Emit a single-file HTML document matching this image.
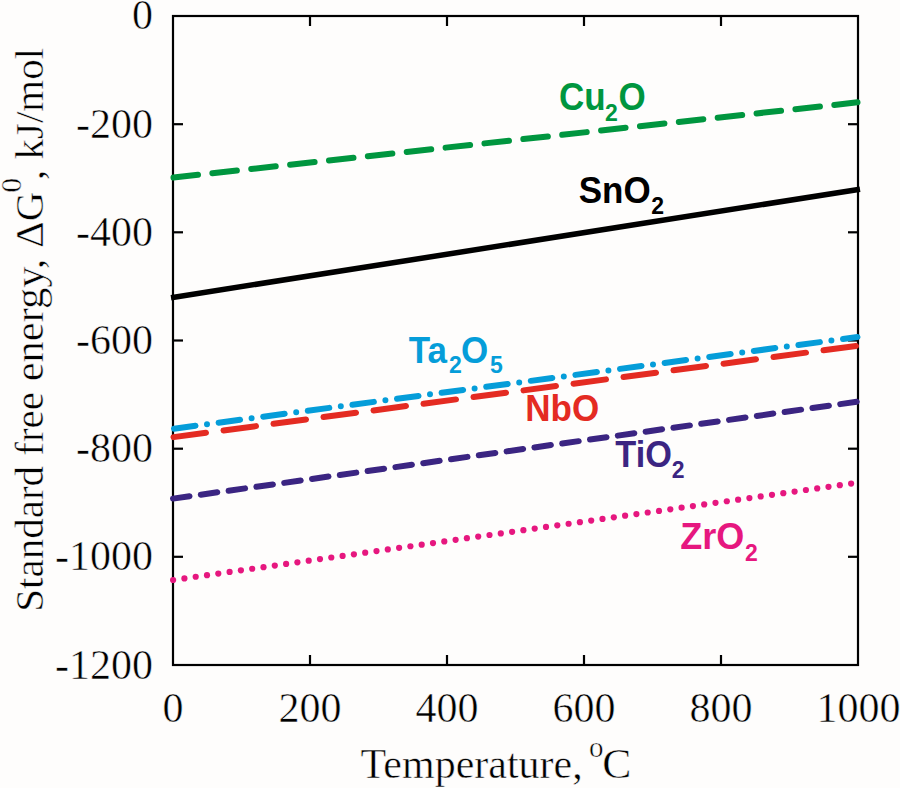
<!DOCTYPE html>
<html><head><meta charset="utf-8">
<style>
html,body{margin:0;padding:0;background:#fefdfc;}
body{width:900px;height:788px;overflow:hidden;}
svg{display:block;}
.ser{font-family:"Liberation Serif",serif;fill:#000;stroke:#fefdfc;stroke-width:0.5px;}
.san{font-family:"Liberation Sans",sans-serif;font-weight:bold;}
</style></head><body>
<svg width="900" height="788" viewBox="0 0 900 788">
<rect x="0" y="0" width="900" height="788" fill="#fefdfc"/>
<rect x="173" y="16" width="685" height="649" fill="none" stroke="#000" stroke-width="2.2"/>
<g stroke="#000" stroke-width="2.2">
<line x1="310.0" y1="665" x2="310.0" y2="655"/>
<line x1="310.0" y1="16" x2="310.0" y2="26"/>
<line x1="447.0" y1="665" x2="447.0" y2="655"/>
<line x1="447.0" y1="16" x2="447.0" y2="26"/>
<line x1="584.0" y1="665" x2="584.0" y2="655"/>
<line x1="584.0" y1="16" x2="584.0" y2="26"/>
<line x1="721.0" y1="665" x2="721.0" y2="655"/>
<line x1="721.0" y1="16" x2="721.0" y2="26"/>
<line x1="173" y1="124.2" x2="183" y2="124.2"/>
<line x1="858" y1="124.2" x2="848" y2="124.2"/>
<line x1="173" y1="232.3" x2="183" y2="232.3"/>
<line x1="858" y1="232.3" x2="848" y2="232.3"/>
<line x1="173" y1="340.5" x2="183" y2="340.5"/>
<line x1="858" y1="340.5" x2="848" y2="340.5"/>
<line x1="173" y1="448.7" x2="183" y2="448.7"/>
<line x1="858" y1="448.7" x2="848" y2="448.7"/>
<line x1="173" y1="556.8" x2="183" y2="556.8"/>
<line x1="858" y1="556.8" x2="848" y2="556.8"/>
</g>
<line x1="173.50" y1="177.55" x2="857.50" y2="102.35" stroke="#00963f" stroke-width="6.00" stroke-linecap="round" stroke-dasharray="24.648 14.457"/>
<line x1="171.00" y1="297.72" x2="860.00" y2="189.18" stroke="#000000" stroke-width="5.50" stroke-linecap="butt"/>
<line x1="174.00" y1="428.67" x2="857.50" y2="337.07" stroke="#059dd9" stroke-width="6.00" stroke-linecap="round" stroke-dasharray="21.692 11.603 0.000 11.704"/>
<line x1="173.50" y1="437.13" x2="857.50" y2="345.77" stroke="#e42b22" stroke-width="6.00" stroke-linecap="round" stroke-dasharray="32.789 17.655"/>
<line x1="173.00" y1="498.60" x2="857.50" y2="401.67" stroke="#3b2582" stroke-width="6.00" stroke-linecap="round" stroke-dasharray="16.665 11.413"/>
<g fill="#e6177f"><circle cx="173.10" cy="579.99" r="3.10"/><circle cx="184.40" cy="578.38" r="3.10"/><circle cx="195.70" cy="576.77" r="3.10"/><circle cx="207.00" cy="575.17" r="3.10"/><circle cx="218.30" cy="573.56" r="3.10"/><circle cx="229.60" cy="571.95" r="3.10"/><circle cx="240.90" cy="570.35" r="3.10"/><circle cx="252.20" cy="568.74" r="3.10"/><circle cx="263.50" cy="567.13" r="3.10"/><circle cx="274.80" cy="565.53" r="3.10"/><circle cx="286.10" cy="563.92" r="3.10"/><circle cx="297.40" cy="562.31" r="3.10"/><circle cx="308.70" cy="560.70" r="3.10"/><circle cx="320.00" cy="559.10" r="3.10"/><circle cx="331.30" cy="557.49" r="3.10"/><circle cx="342.60" cy="555.88" r="3.10"/><circle cx="353.90" cy="554.28" r="3.10"/><circle cx="365.20" cy="552.67" r="3.10"/><circle cx="376.50" cy="551.06" r="3.10"/><circle cx="387.80" cy="549.46" r="3.10"/><circle cx="399.10" cy="547.85" r="3.10"/><circle cx="410.40" cy="546.24" r="3.10"/><circle cx="421.70" cy="544.64" r="3.10"/><circle cx="433.00" cy="543.03" r="3.10"/><circle cx="444.30" cy="541.42" r="3.10"/><circle cx="455.60" cy="539.82" r="3.10"/><circle cx="466.90" cy="538.21" r="3.10"/><circle cx="478.20" cy="536.60" r="3.10"/><circle cx="489.50" cy="535.00" r="3.10"/><circle cx="500.80" cy="533.39" r="3.10"/><circle cx="512.10" cy="531.78" r="3.10"/><circle cx="523.40" cy="530.18" r="3.10"/><circle cx="534.70" cy="528.57" r="3.10"/><circle cx="546.00" cy="526.96" r="3.10"/><circle cx="557.30" cy="525.36" r="3.10"/><circle cx="568.60" cy="523.75" r="3.10"/><circle cx="579.90" cy="522.14" r="3.10"/><circle cx="591.20" cy="520.54" r="3.10"/><circle cx="602.50" cy="518.93" r="3.10"/><circle cx="613.80" cy="517.32" r="3.10"/><circle cx="625.10" cy="515.72" r="3.10"/><circle cx="636.40" cy="514.11" r="3.10"/><circle cx="647.70" cy="512.50" r="3.10"/><circle cx="659.00" cy="510.90" r="3.10"/><circle cx="670.30" cy="509.29" r="3.10"/><circle cx="681.60" cy="507.68" r="3.10"/><circle cx="692.90" cy="506.08" r="3.10"/><circle cx="704.20" cy="504.47" r="3.10"/><circle cx="715.50" cy="502.86" r="3.10"/><circle cx="726.80" cy="501.26" r="3.10"/><circle cx="738.10" cy="499.65" r="3.10"/><circle cx="749.40" cy="498.04" r="3.10"/><circle cx="760.70" cy="496.44" r="3.10"/><circle cx="772.00" cy="494.83" r="3.10"/><circle cx="783.30" cy="493.22" r="3.10"/><circle cx="794.60" cy="491.61" r="3.10"/><circle cx="805.90" cy="490.01" r="3.10"/><circle cx="817.20" cy="488.40" r="3.10"/><circle cx="828.50" cy="486.79" r="3.10"/><circle cx="839.80" cy="485.19" r="3.10"/><circle cx="851.10" cy="483.58" r="3.10"/></g>
<g class="ser" font-size="42" text-anchor="end">
<text x="153" y="29.4">0</text>
<text x="153" y="137.6">-200</text>
<text x="153" y="245.7">-400</text>
<text x="153" y="353.9">-600</text>
<text x="153" y="462.1">-800</text>
<text x="153" y="570.2">-1000</text>
<text x="153" y="678.6">-1200</text>
</g>
<g class="ser" font-size="42" text-anchor="middle">
<text x="173" y="722">0</text>
<text x="310" y="722">200</text>
<text x="447" y="722">400</text>
<text x="584" y="722">600</text>
<text x="721" y="722">800</text>
<text x="858.5" y="722">1000</text>
</g>
<g class="ser">
<text font-size="42" x="360.6" y="777.7">Temperature,</text>
<text font-size="29" x="589" y="756.7">o</text>
<text font-size="42" transform="translate(602.3,777.8) scale(1.04,1)">C</text>
</g>
<g class="ser" transform="translate(43,608.7) rotate(-90)">
<text font-size="41" x="-3" y="0">Standard free</text>
<text font-size="41" transform="translate(227.4,0) scale(1.037,1)">energy,</text>
<text font-size="41" x="361" y="0">ΔG</text>
<text font-size="29" x="416.2" y="-21.7">0</text>
<text font-size="41" x="428.7" y="0">, kJ/mol</text>
</g>
<g class="san" font-size="35">
<g fill="#00963f"><text transform="translate(559,110.2) scale(1,1.1)">Cu</text><text font-size="23" x="605.1" y="120.8">2</text><text transform="translate(618.6,110.2) scale(1,1.1)">O</text></g>
<g fill="#000"><text transform="translate(578.7,202.6) scale(1,1.07)">SnO</text><text font-size="23" x="651.3" y="213.7">2</text></g>
<g fill="#059dd9"><text transform="translate(408.7,362.9) scale(1,1.07)">Ta</text><text font-size="23" x="448.9" y="373.4">2</text><text transform="translate(461,362.9) scale(1,1.07)">O</text><text font-size="23" x="490" y="372.7">5</text></g>
<g fill="#e42b22"><text transform="translate(525.3,421) scale(1,1.06)">NbO</text></g>
<g fill="#3b2582"><text transform="translate(615.3,466.7) scale(0.98,1.06)">TiO</text><text font-size="23" x="671.7" y="478">2</text></g>
<g fill="#e6177f"><text transform="translate(680.3,549.3) scale(1.03,1.06)">ZrO</text><text font-size="23" x="745" y="560.7">2</text></g>
</g>
</svg>
</body></html>
